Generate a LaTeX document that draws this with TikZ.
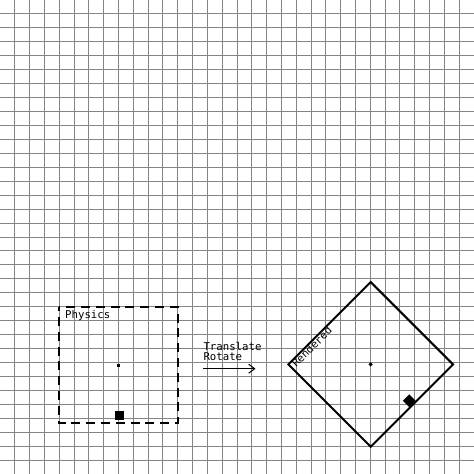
\documentclass[tikz,border=0pt]{standalone}
\usepackage{fontspec}
\setmonofont{DejaVu Sans Mono}
\usepackage{tikz}
\usetikzlibrary{arrows.meta}

\begin{document}
\begin{tikzpicture}[
x=1pt, y=-1pt,
gridline/.style={draw=black!48, line width=1pt},
framebox/.style={draw, line width=2pt},
physbox/.style={framebox, dash pattern=on 9pt off 5.8pt, dash phase=4.5pt},
pixtext/.style={font=\ttfamily\fontsize{10.7}{10.5}\selectfont, inner sep=0pt, anchor=base west},
dotbox/.style={fill=black, inner sep=0pt, minimum size=3pt},
weight/.style={fill=black, inner sep=0pt, minimum size=9pt}
]
\useasboundingbox (0,0) rectangle (474,474);
\fill[white] (0,0) rectangle (474,474);
% grid
\foreach \i in {1,...,31}
  \draw[gridline] (\i*474/32,0) -- (\i*474/32,474);
\foreach \j in {1,...,33}
  \draw[gridline] (0,\j*474/34) -- (474,\j*474/34);
% physics frame
\begin{scope}[shift={(118.5,365)}]
  \draw[physbox] (-59.25,-58.3) rectangle (59.25,58.3);
  \node[pixtext] (physlabel) at (-53.5,-47) {Physics};
  \node[dotbox] (physcenter) at (0,0) {};
  \node[weight] (physweight) at (1,50.5) {};
\end{scope}
% transform label
\node[pixtext] (translabel) at (203.3,350.3) {Translate};
\node[pixtext] (rotlabel) at (203.3,360.7) {Rotate};
\coordinate (arrstart) at (203,368.7);
\coordinate (arrend) at (255.5,368.7);
\draw[line width=1pt, -{Straight Barb[length=6pt,width=9pt]}] (arrstart) -- (arrend);
% rendered frame
\begin{scope}[shift={(370.7,364.4)}, rotate=45]
  \draw[framebox] (-58.2,-58.2) rectangle (58.2,58.2);
  \node[pixtext, rotate=45] (rendlabel) at (-55.2,-50.2) {Rendered};
  \node[dotbox, rotate=45] (rendcenter) at (0,0) {};
  \node[weight, rotate=45] (rendweight) at (1.5,53) {};
\end{scope}
\end{tikzpicture}
\end{document}
